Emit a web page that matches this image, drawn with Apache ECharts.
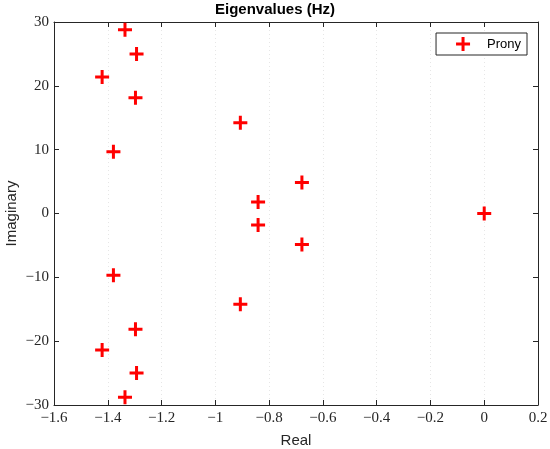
<!DOCTYPE html>
<html>
<head>
<meta charset="utf-8">
<script src="https://cdn.jsdelivr.net/npm/echarts@6/dist/echarts.min.js"></script>
<style>html,body{margin:0;padding:0;background:#fff;}#c{width:550px;height:449px;}</style>
</head>
<body>
<div id="c"></div>
<script>
var realParts = [-1.336, -1.293, -1.421, -1.297, -1.379, -0.907, -0.841, -0.841, -0.678, -0.678, 0.0, -1.379, -0.907, -1.297, -1.421, -1.293, -1.336];
var imagParts = [28.8, 25.0, 21.4, 18.15, 9.67, 14.2, 1.82, -1.82, 4.87, -4.87, 0.0, -9.67, -14.2, -18.15, -21.4, -25.0, -28.8];
var seriesName = 'Prony';
var titleText = 'Eigenvalues (Hz)';
var xName = 'Real';
var yName = 'Imaginary';

var points = realParts.map(function (r, i) { return [r, imagParts[i]]; });
var plus = 'path://M5.5,0H8.5V5.5H14V8.5H8.5V14H5.5V8.5H0V5.5H5.5Z';
var serif = 'Liberation Serif';
var sans = 'Liberation Sans';
function fmt(v) {
  var s = Math.abs(v) < 1e-9 ? '0' : String(Math.round(v * 10) / 10);
  return s.replace('-', '\u2212');
}
var chart = echarts.init(document.getElementById('c'), null, { renderer: 'canvas' });
var axisLineStyle = { color: '#262626', width: 1 };
chart.setOption({
  animation: false,
  backgroundColor: '#fff',
  title: {
    text: titleText, left: 'center', top: 2, padding: 0,
    textStyle: { fontFamily: sans, fontWeight: 'bold', fontSize: 15, color: '#000' }
  },
  legend: {
    data: [{ name: seriesName, icon: plus }],
    right: 23, top: 33, orient: 'vertical',
    itemWidth: 14, itemHeight: 14, itemGap: 6,
    padding: [4, 6, 4, 20],
    borderColor: '#262626', borderWidth: 1, borderRadius: 0,
    backgroundColor: '#fff',
    textStyle: { fontFamily: sans, fontSize: 13, color: '#000', padding: [0, 0, 0, 12] }
  },
  grid: { left: 54, right: 12, top: 22, bottom: 44, containLabel: false, outerBoundsMode: 'none' },
  xAxis: [{
    type: 'value', min: -1.6, max: 0.2, interval: 0.2, position: 'bottom',
    name: xName, nameLocation: 'middle', nameGap: 28, nameMoveOverlap: false,
    nameTextStyle: { fontFamily: sans, fontSize: 15, color: '#262626' },
    axisLine: { show: true, onZero: false, lineStyle: axisLineStyle },
    axisTick: { show: true, inside: true, length: 5, lineStyle: axisLineStyle },
    axisLabel: { fontFamily: serif, fontSize: 15, color: '#262626', margin: 6, formatter: fmt },
    splitLine: { show: true, lineStyle: { color: '#e6e6e6', type: [1, 3], width: 1 } }
  }, {
    type: 'value', min: -1.6, max: 0.2, interval: 0.2, position: 'top',
    axisLine: { show: true, onZero: false, lineStyle: axisLineStyle },
    axisTick: { show: true, inside: true, length: 5, lineStyle: axisLineStyle },
    axisLabel: { show: false }, splitLine: { show: false }
  }],
  yAxis: [{
    type: 'value', min: -30, max: 30, interval: 10, position: 'left',
    name: yName, nameLocation: 'middle', nameGap: 35, nameRotate: 90, nameMoveOverlap: false,
    nameTextStyle: { fontFamily: sans, fontSize: 15, color: '#262626' },
    axisLine: { show: true, onZero: false, lineStyle: axisLineStyle },
    axisTick: { show: true, inside: true, length: 5, lineStyle: axisLineStyle },
    axisLabel: { fontFamily: serif, fontSize: 15, color: '#262626', margin: 5, formatter: fmt },
    splitLine: { show: false }
  }, {
    type: 'value', min: -30, max: 30, interval: 10, position: 'right',
    axisLine: { show: true, onZero: false, lineStyle: axisLineStyle },
    axisTick: { show: true, inside: true, length: 5, lineStyle: axisLineStyle },
    axisLabel: { show: false }, splitLine: { show: false }
  }],
  series: [{
    name: seriesName, type: 'scatter', xAxisIndex: 0, yAxisIndex: 0,
    data: points, symbol: plus, symbolSize: 14,
    itemStyle: { color: '#ff0000', opacity: 1 }
  }]
});
</script>
</body>
</html>
